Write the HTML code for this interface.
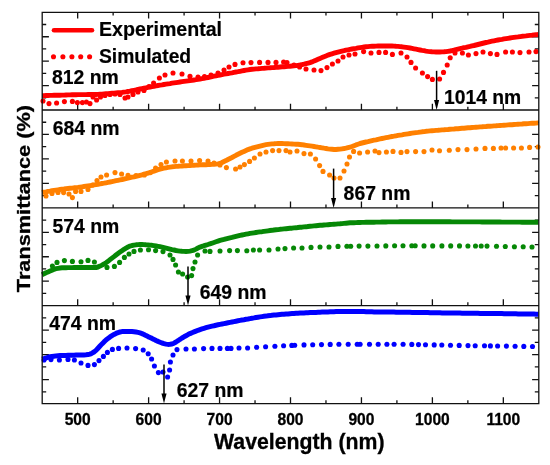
<!DOCTYPE html>
<html><head><meta charset="utf-8"><title>Transmittance spectra</title>
<style>html,body{margin:0;padding:0;background:#fff}body{width:550px;height:465px;overflow:hidden}</style></head>
<body>
<svg width="550" height="465" viewBox="0 0 550 465" style="display:block" font-family="'Liberation Sans', sans-serif" font-weight="bold" fill="#000">
<rect width="550" height="465" fill="#fff"/>
<path d="M77.67,12.30 v6.3 M113.14,12.30 v3.3 M148.61,12.30 v6.3 M184.09,12.30 v3.3 M219.56,12.30 v6.3 M255.03,12.30 v3.3 M290.50,12.30 v6.3 M325.97,12.30 v3.3 M361.44,12.30 v6.3 M396.91,12.30 v3.3 M432.39,12.30 v6.3 M467.86,12.30 v3.3 M503.33,12.30 v6.3 M77.67,110.00 v-6.3 M113.14,110.00 v-3.3 M148.61,110.00 v-6.3 M184.09,110.00 v-3.3 M219.56,110.00 v-6.3 M255.03,110.00 v-3.3 M290.50,110.00 v-6.3 M325.97,110.00 v-3.3 M361.44,110.00 v-6.3 M396.91,110.00 v-3.3 M432.39,110.00 v-6.3 M467.86,110.00 v-3.3 M503.33,110.00 v-6.3 M77.67,207.90 v-6.3 M113.14,207.90 v-3.3 M148.61,207.90 v-6.3 M184.09,207.90 v-3.3 M219.56,207.90 v-6.3 M255.03,207.90 v-3.3 M290.50,207.90 v-6.3 M325.97,207.90 v-3.3 M361.44,207.90 v-6.3 M396.91,207.90 v-3.3 M432.39,207.90 v-6.3 M467.86,207.90 v-3.3 M503.33,207.90 v-6.3 M77.67,305.60 v-6.3 M113.14,305.60 v-3.3 M148.61,305.60 v-6.3 M184.09,305.60 v-3.3 M219.56,305.60 v-6.3 M255.03,305.60 v-3.3 M290.50,305.60 v-6.3 M325.97,305.60 v-3.3 M361.44,305.60 v-6.3 M396.91,305.60 v-3.3 M432.39,305.60 v-6.3 M467.86,305.60 v-3.3 M503.33,305.60 v-6.3 M77.67,403.55 v-6.3 M113.14,403.55 v-3.3 M148.61,403.55 v-6.3 M184.09,403.55 v-3.3 M219.56,403.55 v-6.3 M255.03,403.55 v-3.3 M290.50,403.55 v-6.3 M325.97,403.55 v-3.3 M361.44,403.55 v-6.3 M396.91,403.55 v-3.3 M432.39,403.55 v-6.3 M467.86,403.55 v-3.3 M503.33,403.55 v-6.3 M42.20,24.51 h4.0 M538.80,24.51 h-4.0 M42.20,36.73 h6.7 M538.80,36.73 h-6.7 M42.20,48.94 h4.0 M538.80,48.94 h-4.0 M42.20,61.15 h6.7 M538.80,61.15 h-6.7 M42.20,73.36 h4.0 M538.80,73.36 h-4.0 M42.20,85.58 h6.7 M538.80,85.58 h-6.7 M42.20,97.79 h4.0 M538.80,97.79 h-4.0 M42.20,122.24 h4.0 M538.80,122.24 h-4.0 M42.20,134.47 h6.7 M538.80,134.47 h-6.7 M42.20,146.71 h4.0 M538.80,146.71 h-4.0 M42.20,158.95 h6.7 M538.80,158.95 h-6.7 M42.20,171.19 h4.0 M538.80,171.19 h-4.0 M42.20,183.43 h6.7 M538.80,183.43 h-6.7 M42.20,195.66 h4.0 M538.80,195.66 h-4.0 M42.20,220.11 h4.0 M538.80,220.11 h-4.0 M42.20,232.33 h6.7 M538.80,232.33 h-6.7 M42.20,244.54 h4.0 M538.80,244.54 h-4.0 M42.20,256.75 h6.7 M538.80,256.75 h-6.7 M42.20,268.96 h4.0 M538.80,268.96 h-4.0 M42.20,281.18 h6.7 M538.80,281.18 h-6.7 M42.20,293.39 h4.0 M538.80,293.39 h-4.0 M42.20,317.84 h4.0 M538.80,317.84 h-4.0 M42.20,330.09 h6.7 M538.80,330.09 h-6.7 M42.20,342.33 h4.0 M538.80,342.33 h-4.0 M42.20,354.58 h6.7 M538.80,354.58 h-6.7 M42.20,366.82 h4.0 M538.80,366.82 h-4.0 M42.20,379.56 h6.7 M538.80,379.56 h-6.7 M42.20,391.81 h4.0 M538.80,391.81 h-4.0" fill="none" stroke="#111" stroke-width="1.3"/>
<path d="M42.0,95.6 L44.0,95.6 L46.0,95.5 L48.0,95.5 L50.0,95.4 L52.0,95.4 L54.0,95.3 L56.0,95.3 L58.0,95.3 L60.0,95.2 L62.0,95.1 L64.0,95.1 L66.0,95.0 L68.0,94.9 L70.0,94.9 L72.0,94.8 L74.0,94.7 L76.0,94.7 L78.0,94.6 L80.0,94.6 L82.0,94.6 L84.0,94.6 L86.0,94.6 L88.0,94.5 L90.0,94.5 L92.0,94.5 L94.0,94.5 L96.0,94.5 L98.0,94.4 L100.0,94.2 L102.0,94.1 L104.0,93.9 L106.0,93.7 L108.0,93.6 L110.0,93.4 L112.0,93.2 L114.0,93.1 L116.0,92.9 L118.0,92.7 L120.0,92.6 L122.0,92.4 L124.0,92.1 L126.0,91.9 L128.0,91.5 L130.0,91.2 L132.0,90.7 L134.0,90.3 L136.0,89.9 L138.0,89.4 L140.0,89.0 L142.0,88.6 L144.0,88.2 L146.0,87.8 L148.0,87.4 L150.0,87.0 L152.0,86.6 L154.0,86.3 L156.0,85.9 L158.0,85.5 L160.0,85.2 L162.0,84.9 L164.0,84.5 L166.0,84.2 L168.0,83.9 L170.0,83.6 L172.0,83.2 L174.0,82.9 L176.0,82.6 L178.0,82.3 L180.0,82.0 L182.0,81.7 L184.0,81.4 L186.0,81.1 L188.0,80.8 L190.0,80.5 L192.0,80.3 L194.0,80.0 L196.0,79.7 L198.0,79.3 L200.0,79.0 L202.0,78.6 L204.0,78.3 L206.0,77.9 L208.0,77.5 L210.0,77.1 L212.0,76.6 L214.0,76.2 L216.0,75.8 L218.0,75.4 L220.0,75.0 L222.0,74.6 L224.0,74.2 L226.0,73.9 L228.0,73.5 L230.0,73.1 L232.0,72.8 L234.0,72.4 L236.0,72.0 L238.0,71.7 L240.0,71.3 L242.0,70.9 L244.0,70.5 L246.0,70.1 L248.0,69.8 L250.0,69.5 L252.0,69.3 L254.0,69.1 L256.0,68.9 L258.0,68.8 L260.0,68.6 L262.0,68.4 L264.0,68.3 L266.0,68.1 L268.0,67.9 L270.0,67.8 L272.0,67.6 L274.0,67.5 L276.0,67.3 L278.0,67.2 L280.0,67.0 L282.0,66.8 L284.0,66.7 L286.0,66.5 L288.0,66.4 L290.0,66.2 L292.0,66.0 L294.0,65.8 L296.0,65.6 L298.0,65.3 L300.0,65.0 L302.0,64.6 L304.0,64.2 L306.0,63.7 L308.0,63.2 L310.0,62.6 L312.0,61.9 L314.0,61.1 L316.0,60.2 L318.0,59.3 L320.0,58.4 L322.0,57.6 L324.0,56.7 L326.0,55.9 L328.0,55.1 L330.0,54.4 L332.0,53.8 L334.0,53.2 L336.0,52.6 L338.0,52.1 L340.0,51.6 L342.0,51.1 L344.0,50.7 L346.0,50.2 L348.0,49.8 L350.0,49.4 L352.0,49.0 L354.0,48.6 L356.0,48.3 L358.0,47.9 L360.0,47.6 L362.0,47.3 L364.0,47.0 L366.0,46.8 L368.0,46.6 L370.0,46.4 L372.0,46.3 L374.0,46.2 L376.0,46.1 L378.0,46.0 L380.0,46.0 L382.0,46.0 L384.0,46.0 L386.0,46.0 L388.0,46.0 L390.0,46.0 L392.0,46.0 L394.0,46.1 L396.0,46.3 L398.0,46.4 L400.0,46.6 L402.0,46.8 L404.0,47.1 L406.0,47.4 L408.0,47.7 L410.0,48.0 L412.0,48.4 L414.0,48.8 L416.0,49.2 L418.0,49.6 L420.0,50.0 L422.0,50.4 L424.0,50.7 L426.0,51.1 L428.0,51.4 L430.0,51.6 L432.0,51.8 L434.0,51.9 L436.0,52.0 L438.0,52.0 L440.0,52.0 L442.0,51.9 L444.0,51.8 L446.0,51.6 L448.0,51.3 L450.0,51.0 L452.0,50.6 L454.0,50.2 L456.0,49.6 L458.0,49.1 L460.0,48.6 L462.0,48.2 L464.0,47.7 L466.0,47.3 L468.0,46.8 L470.0,46.4 L472.0,45.9 L474.0,45.5 L476.0,45.0 L478.0,44.5 L480.0,44.0 L482.0,43.5 L484.0,43.0 L486.0,42.5 L488.0,42.1 L490.0,41.6 L492.0,41.2 L494.0,40.8 L496.0,40.4 L498.0,40.0 L500.0,39.6 L502.0,39.3 L504.0,38.9 L506.0,38.6 L508.0,38.3 L510.0,38.0 L512.0,37.7 L514.0,37.4 L516.0,37.1 L518.0,36.9 L520.0,36.6 L522.0,36.3 L524.0,36.1 L526.0,35.9 L528.0,35.6 L530.0,35.4 L532.0,35.2 L534.0,34.9 L536.0,34.7 L538.0,34.5 L538.5,34.4" fill="none" stroke="#ff0000" stroke-width="4.9" stroke-linejoin="round" stroke-linecap="butt"/>
<g fill="#ff0000"><circle cx="43.0" cy="101.0" r="2.55"/><circle cx="49.0" cy="103.6" r="2.55"/><circle cx="56.6" cy="103.0" r="2.55"/><circle cx="64.4" cy="101.6" r="2.55"/><circle cx="72.4" cy="101.4" r="2.55"/><circle cx="77.4" cy="102.6" r="2.55"/><circle cx="82.4" cy="102.6" r="2.55"/><circle cx="86.4" cy="102.0" r="2.55"/><circle cx="90.0" cy="103.6" r="2.55"/><circle cx="93.0" cy="97.0" r="2.55"/><circle cx="96.6" cy="100.0" r="2.55"/><circle cx="100.5" cy="97.0" r="2.55"/><circle cx="105.0" cy="95.5" r="2.55"/><circle cx="110.0" cy="94.5" r="2.55"/><circle cx="115.0" cy="94.0" r="2.55"/><circle cx="120.0" cy="94.4" r="2.55"/><circle cx="125.0" cy="98.0" r="2.55"/><circle cx="128.0" cy="97.0" r="2.55"/><circle cx="133.0" cy="94.4" r="2.55"/><circle cx="138.0" cy="92.0" r="2.55"/><circle cx="144.0" cy="90.4" r="2.55"/><circle cx="149.0" cy="86.5" r="2.55"/><circle cx="153.6" cy="83.0" r="2.55"/><circle cx="159.4" cy="78.0" r="2.55"/><circle cx="165.0" cy="75.0" r="2.55"/><circle cx="173.0" cy="73.0" r="2.55"/><circle cx="182.0" cy="74.0" r="2.55"/><circle cx="190.0" cy="76.4" r="2.55"/><circle cx="198.0" cy="77.0" r="2.55"/><circle cx="204.5" cy="76.5" r="2.55"/><circle cx="211.0" cy="75.0" r="2.55"/><circle cx="218.0" cy="73.0" r="2.55"/><circle cx="224.0" cy="70.0" r="2.55"/><circle cx="229.0" cy="67.0" r="2.55"/><circle cx="235.0" cy="64.4" r="2.55"/><circle cx="243.0" cy="62.8" r="2.55"/><circle cx="251.0" cy="62.6" r="2.55"/><circle cx="259.6" cy="62.4" r="2.55"/><circle cx="268.0" cy="62.4" r="2.55"/><circle cx="276.0" cy="62.4" r="2.55"/><circle cx="283.6" cy="62.0" r="2.55"/><circle cx="287.0" cy="62.6" r="2.55"/><circle cx="294.0" cy="65.0" r="2.55"/><circle cx="299.6" cy="67.0" r="2.55"/><circle cx="306.0" cy="69.0" r="2.55"/><circle cx="314.0" cy="70.0" r="2.55"/><circle cx="321.0" cy="70.6" r="2.55"/><circle cx="327.0" cy="67.6" r="2.55"/><circle cx="332.4" cy="64.0" r="2.55"/><circle cx="338.0" cy="61.0" r="2.55"/><circle cx="343.0" cy="57.0" r="2.55"/><circle cx="349.0" cy="55.0" r="2.55"/><circle cx="355.0" cy="54.0" r="2.55"/><circle cx="363.6" cy="51.6" r="2.55"/><circle cx="371.0" cy="53.0" r="2.55"/><circle cx="379.0" cy="52.4" r="2.55"/><circle cx="385.6" cy="52.4" r="2.55"/><circle cx="392.4" cy="54.4" r="2.55"/><circle cx="401.0" cy="53.0" r="2.55"/><circle cx="407.0" cy="57.0" r="2.55"/><circle cx="411.0" cy="62.4" r="2.55"/><circle cx="415.6" cy="68.0" r="2.55"/><circle cx="422.4" cy="73.0" r="2.55"/><circle cx="427.6" cy="76.6" r="2.55"/><circle cx="432.4" cy="79.4" r="2.55"/><circle cx="439.6" cy="79.0" r="2.55"/><circle cx="443.5" cy="72.4" r="2.55"/><circle cx="447.2" cy="65.0" r="2.55"/><circle cx="450.2" cy="57.8" r="2.55"/><circle cx="455.0" cy="53.0" r="2.55"/><circle cx="462.4" cy="53.0" r="2.55"/><circle cx="468.4" cy="55.0" r="2.55"/><circle cx="476.0" cy="53.6" r="2.55"/><circle cx="483.0" cy="52.0" r="2.55"/><circle cx="490.4" cy="53.6" r="2.55"/><circle cx="497.0" cy="54.4" r="2.55"/><circle cx="505.6" cy="52.0" r="2.55"/><circle cx="512.4" cy="52.0" r="2.55"/><circle cx="520.0" cy="52.6" r="2.55"/><circle cx="529.0" cy="52.0" r="2.55"/><circle cx="536.0" cy="51.6" r="2.55"/></g>
<path d="M42.0,192.5 L44.0,192.1 L46.0,191.8 L48.0,191.4 L50.0,191.1 L52.0,190.7 L54.0,190.4 L56.0,190.1 L58.0,189.8 L60.0,189.5 L62.0,189.2 L64.0,189.0 L66.0,188.7 L68.0,188.5 L70.0,188.3 L72.0,188.1 L74.0,187.8 L76.0,187.6 L78.0,187.4 L80.0,187.1 L82.0,186.8 L84.0,186.5 L86.0,186.2 L88.0,185.9 L90.0,185.6 L92.0,185.3 L94.0,184.9 L96.0,184.6 L98.0,184.3 L100.0,183.9 L102.0,183.5 L104.0,183.2 L106.0,182.8 L108.0,182.4 L110.0,182.0 L112.0,181.6 L114.0,181.2 L116.0,180.7 L118.0,180.3 L120.0,179.9 L122.0,179.5 L124.0,179.0 L126.0,178.6 L128.0,178.2 L130.0,177.7 L132.0,177.2 L134.0,176.8 L136.0,176.3 L138.0,175.8 L140.0,175.3 L142.0,174.8 L144.0,174.2 L146.0,173.7 L148.0,173.1 L150.0,172.5 L152.0,171.8 L154.0,171.1 L156.0,170.4 L158.0,169.7 L160.0,169.1 L162.0,168.6 L164.0,168.2 L166.0,167.8 L168.0,167.4 L170.0,167.1 L172.0,166.8 L174.0,166.6 L176.0,166.4 L178.0,166.3 L180.0,166.1 L182.0,166.0 L184.0,165.8 L186.0,165.7 L188.0,165.6 L190.0,165.5 L192.0,165.4 L194.0,165.2 L196.0,165.1 L198.0,165.0 L200.0,164.9 L202.0,164.8 L204.0,164.7 L206.0,164.7 L208.0,164.6 L210.0,164.5 L212.0,164.4 L214.0,164.3 L216.0,164.1 L218.0,163.9 L220.0,163.4 L222.0,162.5 L224.0,161.5 L226.0,160.6 L228.0,159.5 L230.0,158.5 L232.0,157.5 L234.0,156.4 L236.0,155.3 L238.0,154.3 L240.0,153.3 L242.0,152.3 L244.0,151.4 L246.0,150.5 L248.0,149.6 L250.0,148.9 L252.0,148.2 L254.0,147.6 L256.0,147.1 L258.0,146.6 L260.0,146.1 L262.0,145.6 L264.0,145.1 L266.0,144.7 L268.0,144.4 L270.0,144.1 L272.0,143.9 L274.0,143.8 L276.0,143.6 L278.0,143.5 L280.0,143.5 L282.0,143.5 L284.0,143.6 L286.0,143.7 L288.0,143.8 L290.0,143.9 L292.0,144.0 L294.0,144.1 L296.0,144.2 L298.0,144.3 L300.0,144.5 L302.0,144.7 L304.0,145.0 L306.0,145.3 L308.0,145.6 L310.0,145.9 L312.0,146.2 L314.0,146.5 L316.0,146.8 L318.0,147.2 L320.0,147.5 L322.0,147.8 L324.0,148.2 L326.0,148.5 L328.0,148.9 L330.0,149.1 L332.0,149.3 L334.0,149.5 L336.0,149.5 L338.0,149.3 L340.0,149.1 L342.0,148.8 L344.0,148.5 L346.0,148.1 L348.0,147.6 L350.0,147.1 L352.0,146.5 L354.0,145.7 L356.0,144.9 L358.0,144.2 L360.0,143.5 L362.0,143.0 L364.0,142.5 L366.0,142.0 L368.0,141.6 L370.0,141.1 L372.0,140.6 L374.0,140.2 L376.0,139.8 L378.0,139.3 L380.0,138.9 L382.0,138.5 L384.0,138.1 L386.0,137.7 L388.0,137.3 L390.0,136.9 L392.0,136.5 L394.0,136.2 L396.0,135.8 L398.0,135.4 L400.0,135.1 L402.0,134.8 L404.0,134.4 L406.0,134.1 L408.0,133.8 L410.0,133.5 L412.0,133.2 L414.0,132.9 L416.0,132.6 L418.0,132.4 L420.0,132.1 L422.0,131.8 L424.0,131.6 L426.0,131.3 L428.0,131.1 L430.0,130.9 L432.0,130.7 L434.0,130.6 L436.0,130.4 L438.0,130.3 L440.0,130.1 L442.0,129.9 L444.0,129.8 L446.0,129.6 L448.0,129.5 L450.0,129.3 L452.0,129.1 L454.0,129.0 L456.0,128.8 L458.0,128.7 L460.0,128.5 L462.0,128.3 L464.0,128.2 L466.0,128.0 L468.0,127.8 L470.0,127.7 L472.0,127.5 L474.0,127.4 L476.0,127.2 L478.0,127.1 L480.0,126.9 L482.0,126.8 L484.0,126.6 L486.0,126.5 L488.0,126.3 L490.0,126.2 L492.0,126.1 L494.0,125.9 L496.0,125.8 L498.0,125.6 L500.0,125.5 L502.0,125.4 L504.0,125.2 L506.0,125.1 L508.0,124.9 L510.0,124.8 L512.0,124.7 L514.0,124.5 L516.0,124.4 L518.0,124.2 L520.0,124.1 L522.0,124.0 L524.0,123.8 L526.0,123.7 L528.0,123.6 L530.0,123.4 L532.0,123.3 L534.0,123.2 L536.0,123.1 L538.0,122.9 L538.5,122.9" fill="none" stroke="#ff8000" stroke-width="4.9" stroke-linejoin="round" stroke-linecap="butt"/>
<g fill="#ff8000"><circle cx="46.0" cy="196.0" r="2.55"/><circle cx="52.0" cy="193.5" r="2.55"/><circle cx="58.0" cy="192.5" r="2.55"/><circle cx="63.6" cy="192.6" r="2.55"/><circle cx="69.0" cy="194.0" r="2.55"/><circle cx="72.4" cy="197.6" r="2.55"/><circle cx="75.6" cy="191.4" r="2.55"/><circle cx="81.0" cy="191.4" r="2.55"/><circle cx="88.0" cy="189.4" r="2.55"/><circle cx="92.5" cy="185.0" r="2.55"/><circle cx="97.0" cy="180.6" r="2.55"/><circle cx="101.0" cy="177.0" r="2.55"/><circle cx="106.6" cy="175.0" r="2.55"/><circle cx="115.0" cy="172.6" r="2.55"/><circle cx="121.6" cy="174.0" r="2.55"/><circle cx="128.0" cy="175.4" r="2.55"/><circle cx="136.0" cy="175.5" r="2.55"/><circle cx="144.4" cy="175.0" r="2.55"/><circle cx="150.4" cy="172.6" r="2.55"/><circle cx="155.6" cy="168.0" r="2.55"/><circle cx="161.0" cy="164.6" r="2.55"/><circle cx="166.4" cy="162.0" r="2.55"/><circle cx="175.0" cy="161.0" r="2.55"/><circle cx="182.4" cy="161.0" r="2.55"/><circle cx="191.0" cy="161.0" r="2.55"/><circle cx="199.6" cy="160.6" r="2.55"/><circle cx="208.0" cy="161.0" r="2.55"/><circle cx="214.0" cy="163.0" r="2.55"/><circle cx="220.0" cy="165.0" r="2.55"/><circle cx="226.4" cy="167.6" r="2.55"/><circle cx="235.6" cy="169.0" r="2.55"/><circle cx="240.0" cy="167.0" r="2.55"/><circle cx="244.4" cy="164.6" r="2.55"/><circle cx="249.6" cy="161.4" r="2.55"/><circle cx="254.4" cy="158.0" r="2.55"/><circle cx="260.0" cy="154.0" r="2.55"/><circle cx="266.0" cy="152.0" r="2.55"/><circle cx="272.6" cy="150.6" r="2.55"/><circle cx="279.0" cy="150.6" r="2.55"/><circle cx="286.0" cy="150.6" r="2.55"/><circle cx="290.0" cy="152.0" r="2.55"/><circle cx="297.0" cy="151.0" r="2.55"/><circle cx="304.0" cy="153.6" r="2.55"/><circle cx="310.4" cy="154.0" r="2.55"/><circle cx="315.6" cy="159.0" r="2.55"/><circle cx="319.6" cy="165.6" r="2.55"/><circle cx="323.0" cy="171.4" r="2.55"/><circle cx="329.6" cy="175.0" r="2.55"/><circle cx="334.0" cy="178.0" r="2.55"/><circle cx="340.0" cy="178.0" r="2.55"/><circle cx="344.0" cy="171.0" r="2.55"/><circle cx="347.0" cy="164.0" r="2.55"/><circle cx="349.5" cy="157.0" r="2.55"/><circle cx="353.6" cy="151.4" r="2.55"/><circle cx="359.6" cy="153.0" r="2.55"/><circle cx="367.6" cy="152.0" r="2.55"/><circle cx="375.0" cy="151.0" r="2.55"/><circle cx="379.0" cy="152.6" r="2.55"/><circle cx="386.4" cy="152.0" r="2.55"/><circle cx="393.0" cy="151.4" r="2.55"/><circle cx="401.0" cy="152.4" r="2.55"/><circle cx="407.0" cy="151.6" r="2.55"/><circle cx="415.6" cy="151.6" r="2.55"/><circle cx="424.0" cy="151.6" r="2.55"/><circle cx="432.0" cy="150.0" r="2.55"/><circle cx="439.5" cy="150.8" r="2.55"/><circle cx="449.3" cy="150.2" r="2.55"/><circle cx="458.0" cy="149.6" r="2.55"/><circle cx="467.0" cy="149.6" r="2.55"/><circle cx="476.0" cy="149.0" r="2.55"/><circle cx="485.0" cy="148.4" r="2.55"/><circle cx="493.4" cy="148.4" r="2.55"/><circle cx="501.0" cy="148.0" r="2.55"/><circle cx="505.6" cy="148.0" r="2.55"/><circle cx="513.6" cy="148.0" r="2.55"/><circle cx="521.4" cy="148.0" r="2.55"/><circle cx="529.6" cy="147.4" r="2.55"/><circle cx="538.0" cy="147.0" r="2.55"/></g>
<path d="M42.0,274.7 L44.0,273.8 L46.0,272.8 L48.0,272.0 L50.0,271.1 L52.0,270.2 L54.0,269.3 L56.0,268.7 L58.0,268.3 L60.0,268.0 L62.0,267.8 L64.0,267.7 L66.0,267.7 L68.0,267.6 L70.0,267.6 L72.0,267.6 L74.0,267.5 L76.0,267.5 L78.0,267.5 L80.0,267.5 L82.0,267.5 L84.0,267.5 L86.0,267.5 L88.0,267.5 L90.0,267.5 L92.0,267.5 L94.0,267.5 L96.0,267.5 L98.0,267.0 L100.0,266.1 L102.0,265.1 L104.0,264.0 L106.0,262.7 L108.0,261.3 L110.0,259.7 L112.0,258.1 L114.0,256.6 L116.0,255.0 L118.0,253.5 L120.0,252.1 L122.0,250.7 L124.0,249.3 L126.0,248.1 L128.0,247.0 L130.0,246.1 L132.0,245.5 L134.0,245.1 L136.0,244.8 L138.0,244.6 L140.0,244.5 L142.0,244.5 L144.0,244.6 L146.0,244.8 L148.0,244.9 L150.0,245.1 L152.0,245.3 L154.0,245.6 L156.0,245.9 L158.0,246.3 L160.0,246.7 L162.0,247.1 L164.0,247.6 L166.0,248.1 L168.0,248.6 L170.0,249.1 L172.0,249.6 L174.0,250.0 L176.0,250.5 L178.0,250.8 L180.0,251.1 L182.0,251.3 L184.0,251.4 L186.0,251.5 L188.0,251.4 L190.0,251.1 L192.0,250.7 L194.0,250.1 L196.0,249.1 L198.0,248.0 L200.0,247.1 L202.0,246.4 L204.0,245.7 L206.0,245.1 L208.0,244.5 L210.0,243.8 L212.0,243.2 L214.0,242.5 L216.0,241.8 L218.0,241.1 L220.0,240.4 L222.0,239.9 L224.0,239.4 L226.0,238.8 L228.0,238.3 L230.0,237.8 L232.0,237.4 L234.0,236.9 L236.0,236.4 L238.0,235.9 L240.0,235.4 L242.0,235.0 L244.0,234.6 L246.0,234.2 L248.0,233.8 L250.0,233.4 L252.0,233.1 L254.0,232.8 L256.0,232.5 L258.0,232.2 L260.0,231.9 L262.0,231.7 L264.0,231.4 L266.0,231.1 L268.0,230.8 L270.0,230.5 L272.0,230.3 L274.0,230.0 L276.0,229.8 L278.0,229.6 L280.0,229.3 L282.0,229.1 L284.0,228.9 L286.0,228.7 L288.0,228.5 L290.0,228.3 L292.0,228.2 L294.0,227.9 L296.0,227.8 L298.0,227.5 L300.0,227.3 L302.0,227.2 L304.0,226.9 L306.0,226.8 L308.0,226.5 L310.0,226.3 L312.0,226.1 L314.0,225.9 L316.0,225.7 L318.0,225.5 L320.0,225.3 L322.0,225.2 L324.0,225.0 L326.0,224.9 L328.0,224.7 L330.0,224.5 L332.0,224.4 L334.0,224.2 L336.0,224.1 L338.0,223.9 L340.0,223.8 L342.0,223.6 L344.0,223.4 L346.0,223.2 L348.0,223.0 L350.0,222.8 L352.0,222.8 L354.0,222.7 L356.0,222.6 L358.0,222.5 L360.0,222.5 L362.0,222.4 L364.0,222.4 L366.0,222.3 L368.0,222.3 L370.0,222.2 L372.0,222.2 L374.0,222.2 L376.0,222.1 L378.0,222.1 L380.0,222.1 L382.0,222.0 L384.0,222.0 L386.0,222.0 L388.0,221.9 L390.0,221.9 L392.0,221.9 L394.0,221.9 L396.0,221.9 L398.0,221.9 L400.0,221.8 L402.0,221.8 L404.0,221.8 L406.0,221.8 L408.0,221.8 L410.0,221.8 L412.0,221.8 L414.0,221.8 L416.0,221.8 L418.0,221.8 L420.0,221.8 L422.0,221.8 L424.0,221.8 L426.0,221.8 L428.0,221.8 L430.0,221.8 L432.0,221.8 L434.0,221.8 L436.0,221.8 L438.0,221.8 L440.0,221.8 L442.0,221.8 L444.0,221.8 L446.0,221.8 L448.0,221.8 L450.0,221.8 L452.0,221.9 L454.0,221.9 L456.0,221.9 L458.0,221.9 L460.0,221.9 L462.0,221.9 L464.0,221.9 L466.0,221.9 L468.0,221.9 L470.0,221.9 L472.0,221.9 L474.0,221.9 L476.0,221.9 L478.0,221.9 L480.0,221.9 L482.0,222.0 L484.0,222.0 L486.0,222.0 L488.0,222.0 L490.0,222.0 L492.0,222.0 L494.0,222.0 L496.0,222.0 L498.0,222.0 L500.0,222.0 L502.0,222.1 L504.0,222.1 L506.0,222.1 L508.0,222.1 L510.0,222.1 L512.0,222.1 L514.0,222.1 L516.0,222.1 L518.0,222.1 L520.0,222.1 L522.0,222.2 L524.0,222.2 L526.0,222.2 L528.0,222.2 L530.0,222.2 L532.0,222.2 L534.0,222.2 L536.0,222.2 L538.0,222.2 L538.5,222.2" fill="none" stroke="#068806" stroke-width="4.9" stroke-linejoin="round" stroke-linecap="butt"/>
<g fill="#068806"><circle cx="52.4" cy="266.0" r="2.55"/><circle cx="57.0" cy="262.4" r="2.55"/><circle cx="64.4" cy="260.6" r="2.55"/><circle cx="72.4" cy="261.4" r="2.55"/><circle cx="81.0" cy="261.8" r="2.55"/><circle cx="88.0" cy="260.4" r="2.55"/><circle cx="94.4" cy="262.0" r="2.55"/><circle cx="107.0" cy="267.4" r="2.55"/><circle cx="114.4" cy="266.4" r="2.55"/><circle cx="119.6" cy="262.4" r="2.55"/><circle cx="124.4" cy="257.4" r="2.55"/><circle cx="129.0" cy="254.0" r="2.55"/><circle cx="134.0" cy="251.4" r="2.55"/><circle cx="140.4" cy="250.0" r="2.55"/><circle cx="148.5" cy="249.8" r="2.55"/><circle cx="155.6" cy="250.6" r="2.55"/><circle cx="163.0" cy="251.6" r="2.55"/><circle cx="170.0" cy="255.0" r="2.55"/><circle cx="173.0" cy="259.4" r="2.55"/><circle cx="175.6" cy="265.0" r="2.55"/><circle cx="178.4" cy="272.0" r="2.55"/><circle cx="182.6" cy="274.0" r="2.55"/><circle cx="187.6" cy="277.0" r="2.55"/><circle cx="191.6" cy="275.6" r="2.55"/><circle cx="193.0" cy="268.6" r="2.55"/><circle cx="195.0" cy="262.0" r="2.55"/><circle cx="197.6" cy="255.0" r="2.55"/><circle cx="205.0" cy="251.0" r="2.55"/><circle cx="210.0" cy="251.4" r="2.55"/><circle cx="220.0" cy="251.0" r="2.55"/><circle cx="229.6" cy="250.6" r="2.55"/><circle cx="237.4" cy="250.6" r="2.55"/><circle cx="246.8" cy="250.8" r="2.55"/><circle cx="253.4" cy="250.0" r="2.55"/><circle cx="259.6" cy="250.0" r="2.55"/><circle cx="269.0" cy="250.0" r="2.55"/><circle cx="278.0" cy="249.0" r="2.55"/><circle cx="285.0" cy="248.6" r="2.55"/><circle cx="293.6" cy="248.0" r="2.55"/><circle cx="302.0" cy="248.0" r="2.55"/><circle cx="311.0" cy="247.4" r="2.55"/><circle cx="320.0" cy="247.0" r="2.55"/><circle cx="329.0" cy="247.0" r="2.55"/><circle cx="338.0" cy="246.4" r="2.55"/><circle cx="346.9" cy="246.2" r="2.55"/><circle cx="350.7" cy="246.2" r="2.55"/><circle cx="359.1" cy="246.1" r="2.55"/><circle cx="367.9" cy="246.1" r="2.55"/><circle cx="377.0" cy="246.0" r="2.55"/><circle cx="385.8" cy="245.9" r="2.55"/><circle cx="394.6" cy="245.8" r="2.55"/><circle cx="403.0" cy="245.8" r="2.55"/><circle cx="411.8" cy="245.8" r="2.55"/><circle cx="415.2" cy="245.8" r="2.55"/><circle cx="424.0" cy="245.9" r="2.55"/><circle cx="432.7" cy="245.9" r="2.55"/><circle cx="441.9" cy="245.9" r="2.55"/><circle cx="450.7" cy="245.9" r="2.55"/><circle cx="459.5" cy="245.9" r="2.55"/><circle cx="467.9" cy="246.0" r="2.55"/><circle cx="475.5" cy="246.0" r="2.55"/><circle cx="481.2" cy="246.0" r="2.55"/><circle cx="487.0" cy="246.1" r="2.55"/><circle cx="496.5" cy="246.3" r="2.55"/><circle cx="505.3" cy="246.5" r="2.55"/><circle cx="514.4" cy="246.7" r="2.55"/><circle cx="523.2" cy="246.8" r="2.55"/><circle cx="532.0" cy="247.0" r="2.55"/></g>
<path d="M42.0,359.2 L44.0,358.6 L46.0,358.0 L48.0,357.3 L50.0,356.8 L52.0,356.5 L54.0,356.2 L56.0,355.9 L58.0,355.7 L60.0,355.6 L62.0,355.5 L64.0,355.4 L66.0,355.4 L68.0,355.3 L70.0,355.3 L72.0,355.2 L74.0,355.2 L76.0,355.1 L78.0,355.1 L80.0,355.0 L82.0,354.9 L84.0,354.9 L86.0,354.8 L88.0,354.6 L90.0,354.1 L92.0,353.2 L94.0,352.0 L96.0,350.4 L98.0,348.2 L100.0,346.0 L102.0,343.9 L104.0,341.9 L106.0,340.0 L108.0,338.4 L110.0,336.9 L112.0,335.6 L114.0,334.4 L116.0,333.4 L118.0,332.6 L120.0,332.0 L122.0,331.6 L124.0,331.4 L126.0,331.4 L128.0,331.4 L130.0,331.4 L132.0,331.5 L134.0,331.7 L136.0,332.0 L138.0,332.4 L140.0,332.9 L142.0,333.6 L144.0,334.5 L146.0,335.6 L148.0,336.6 L150.0,337.5 L152.0,338.4 L154.0,339.4 L156.0,340.5 L158.0,341.4 L160.0,342.2 L162.0,343.0 L164.0,343.6 L166.0,344.1 L168.0,344.4 L170.0,344.3 L172.0,344.0 L174.0,343.2 L176.0,342.0 L178.0,340.7 L180.0,339.3 L182.0,338.0 L184.0,336.8 L186.0,335.7 L188.0,334.6 L190.0,333.6 L192.0,332.7 L194.0,331.9 L196.0,331.1 L198.0,330.3 L200.0,329.6 L202.0,328.9 L204.0,328.3 L206.0,327.7 L208.0,327.1 L210.0,326.6 L212.0,326.1 L214.0,325.7 L216.0,325.2 L218.0,324.8 L220.0,324.4 L222.0,324.0 L224.0,323.6 L226.0,323.2 L228.0,322.8 L230.0,322.4 L232.0,322.0 L234.0,321.6 L236.0,321.2 L238.0,320.8 L240.0,320.4 L242.0,320.0 L244.0,319.7 L246.0,319.3 L248.0,319.0 L250.0,318.6 L252.0,318.2 L254.0,317.9 L256.0,317.5 L258.0,317.2 L260.0,316.9 L262.0,316.6 L264.0,316.3 L266.0,316.1 L268.0,315.8 L270.0,315.6 L272.0,315.3 L274.0,315.1 L276.0,314.9 L278.0,314.7 L280.0,314.5 L282.0,314.3 L284.0,314.2 L286.0,314.0 L288.0,313.9 L290.0,313.7 L292.0,313.6 L294.0,313.5 L296.0,313.3 L298.0,313.2 L300.0,313.1 L302.0,313.0 L304.0,312.9 L306.0,312.8 L308.0,312.7 L310.0,312.6 L312.0,312.5 L314.0,312.4 L316.0,312.4 L318.0,312.3 L320.0,312.2 L322.0,312.1 L324.0,312.0 L326.0,312.0 L328.0,311.9 L330.0,311.8 L332.0,311.7 L334.0,311.7 L336.0,311.6 L338.0,311.6 L340.0,311.6 L342.0,311.6 L344.0,311.6 L346.0,311.6 L348.0,311.6 L350.0,311.6 L352.0,311.6 L354.0,311.6 L356.0,311.6 L358.0,311.6 L360.0,311.6 L362.0,311.6 L364.0,311.6 L366.0,311.7 L368.0,311.7 L370.0,311.8 L372.0,311.8 L374.0,311.9 L376.0,311.9 L378.0,312.0 L380.0,312.0 L382.0,312.0 L384.0,312.0 L386.0,312.1 L388.0,312.1 L390.0,312.1 L392.0,312.1 L394.0,312.1 L396.0,312.2 L398.0,312.2 L400.0,312.2 L402.0,312.2 L404.0,312.3 L406.0,312.3 L408.0,312.3 L410.0,312.3 L412.0,312.4 L414.0,312.4 L416.0,312.4 L418.0,312.5 L420.0,312.5 L422.0,312.5 L424.0,312.6 L426.0,312.6 L428.0,312.6 L430.0,312.7 L432.0,312.7 L434.0,312.7 L436.0,312.8 L438.0,312.8 L440.0,312.8 L442.0,312.9 L444.0,312.9 L446.0,312.9 L448.0,313.0 L450.0,313.0 L452.0,313.0 L454.0,313.1 L456.0,313.1 L458.0,313.1 L460.0,313.1 L462.0,313.2 L464.0,313.2 L466.0,313.2 L468.0,313.2 L470.0,313.2 L472.0,313.3 L474.0,313.3 L476.0,313.3 L478.0,313.3 L480.0,313.4 L482.0,313.4 L484.0,313.4 L486.0,313.4 L488.0,313.4 L490.0,313.5 L492.0,313.5 L494.0,313.5 L496.0,313.5 L498.0,313.6 L500.0,313.6 L502.0,313.6 L504.0,313.7 L506.0,313.7 L508.0,313.7 L510.0,313.7 L512.0,313.8 L514.0,313.8 L516.0,313.8 L518.0,313.9 L520.0,313.9 L522.0,313.9 L524.0,314.0 L526.0,314.0 L528.0,314.0 L530.0,314.1 L532.0,314.1 L534.0,314.1 L536.0,314.2 L538.0,314.2 L538.5,314.2" fill="none" stroke="#0000ff" stroke-width="5.0" stroke-linejoin="round" stroke-linecap="butt"/>
<g fill="#0000ff"><circle cx="44.0" cy="360.0" r="2.55"/><circle cx="51.0" cy="359.6" r="2.55"/><circle cx="59.4" cy="360.0" r="2.55"/><circle cx="68.0" cy="359.4" r="2.55"/><circle cx="74.4" cy="360.0" r="2.55"/><circle cx="81.0" cy="363.0" r="2.55"/><circle cx="88.0" cy="365.4" r="2.55"/><circle cx="94.4" cy="364.6" r="2.55"/><circle cx="99.0" cy="360.6" r="2.55"/><circle cx="103.4" cy="356.4" r="2.55"/><circle cx="107.4" cy="352.4" r="2.55"/><circle cx="112.4" cy="349.4" r="2.55"/><circle cx="118.6" cy="348.4" r="2.55"/><circle cx="127.0" cy="348.0" r="2.55"/><circle cx="135.6" cy="348.6" r="2.55"/><circle cx="143.2" cy="350.0" r="2.55"/><circle cx="148.2" cy="353.8" r="2.55"/><circle cx="151.6" cy="359.0" r="2.55"/><circle cx="154.4" cy="366.0" r="2.55"/><circle cx="158.4" cy="372.6" r="2.55"/><circle cx="163.0" cy="372.0" r="2.55"/><circle cx="167.6" cy="377.0" r="2.55"/><circle cx="169.6" cy="370.0" r="2.55"/><circle cx="170.4" cy="362.0" r="2.55"/><circle cx="173.0" cy="355.0" r="2.55"/><circle cx="177.0" cy="349.6" r="2.55"/><circle cx="186.0" cy="349.0" r="2.55"/><circle cx="194.4" cy="349.0" r="2.55"/><circle cx="203.6" cy="348.6" r="2.55"/><circle cx="212.0" cy="348.4" r="2.55"/><circle cx="220.0" cy="348.4" r="2.55"/><circle cx="227.4" cy="348.4" r="2.55"/><circle cx="231.0" cy="348.4" r="2.55"/><circle cx="239.0" cy="348.0" r="2.55"/><circle cx="247.6" cy="348.0" r="2.55"/><circle cx="256.6" cy="347.2" r="2.55"/><circle cx="265.6" cy="346.7" r="2.55"/><circle cx="274.9" cy="346.3" r="2.55"/><circle cx="283.6" cy="345.8" r="2.55"/><circle cx="291.8" cy="345.4" r="2.55"/><circle cx="294.7" cy="345.3" r="2.55"/><circle cx="304.0" cy="344.9" r="2.55"/><circle cx="312.7" cy="344.7" r="2.55"/><circle cx="321.5" cy="344.6" r="2.55"/><circle cx="330.2" cy="344.4" r="2.55"/><circle cx="338.9" cy="344.2" r="2.55"/><circle cx="348.2" cy="344.2" r="2.55"/><circle cx="357.2" cy="344.2" r="2.55"/><circle cx="360.1" cy="344.2" r="2.55"/><circle cx="369.5" cy="344.2" r="2.55"/><circle cx="378.2" cy="344.2" r="2.55"/><circle cx="386.9" cy="344.2" r="2.55"/><circle cx="394.1" cy="344.2" r="2.55"/><circle cx="403.1" cy="344.3" r="2.55"/><circle cx="411.8" cy="344.4" r="2.55"/><circle cx="418.5" cy="344.6" r="2.55"/><circle cx="425.5" cy="344.7" r="2.55"/><circle cx="434.2" cy="344.9" r="2.55"/><circle cx="441.8" cy="345.0" r="2.55"/><circle cx="450.5" cy="345.2" r="2.55"/><circle cx="459.2" cy="345.4" r="2.55"/><circle cx="468.0" cy="345.6" r="2.55"/><circle cx="475.2" cy="345.7" r="2.55"/><circle cx="484.5" cy="345.8" r="2.55"/><circle cx="490.4" cy="345.9" r="2.55"/><circle cx="497.6" cy="346.0" r="2.55"/><circle cx="506.4" cy="346.1" r="2.55"/><circle cx="515.1" cy="346.3" r="2.55"/><circle cx="523.8" cy="346.4" r="2.55"/><circle cx="532.5" cy="346.5" r="2.55"/></g>
<line x1="54" y1="30.2" x2="92" y2="30.2" stroke="#ff0000" stroke-width="4.6" stroke-linecap="round"/>
<g fill="#ff0000"><circle cx="53.5" cy="56.8" r="2.55"/><circle cx="62.9" cy="56.8" r="2.55"/><circle cx="71.9" cy="56.8" r="2.55"/><circle cx="80.7" cy="56.8" r="2.55"/><circle cx="89.6" cy="56.8" r="2.55"/></g>
<path d="M41.55,12.30 H539.45 M41.55,110.00 H539.45 M41.55,207.90 H539.45 M41.55,305.60 H539.45 M41.55,403.55 H539.45 M42.20,12.30 V403.40 M538.80,12.30 V403.40" fill="none" stroke="#111" stroke-width="1.3"/>
<line x1="436.6" y1="70.8" x2="436.6" y2="101.0" stroke="#000" stroke-width="1.5"/><path d="M436.6,110.0 L434.05,100.0 L439.15000000000003,100.0 Z" fill="#000"/>
<line x1="333.6" y1="168.6" x2="333.6" y2="198.9" stroke="#000" stroke-width="1.5"/><path d="M333.6,207.9 L331.05,197.9 L336.15000000000003,197.9 Z" fill="#000"/>
<line x1="188" y1="266.6" x2="188" y2="296.6" stroke="#000" stroke-width="1.5"/><path d="M188,305.6 L185.45,295.6 L190.55,295.6 Z" fill="#000"/>
<line x1="164" y1="364.4" x2="164" y2="394.6" stroke="#000" stroke-width="1.5"/><path d="M164,403.6 L161.45,393.6 L166.55,393.6 Z" fill="#000"/>
<text transform="translate(99,36.4) scale(1,1.0)" font-size="19.6" text-anchor="start" stroke="#000" stroke-width="0.2">Experimental</text>
<text transform="translate(99,62.9) scale(1,1.0)" font-size="19.3" text-anchor="start" stroke="#000" stroke-width="0.2">Simulated</text>
<text transform="translate(52,83.5) scale(1,1.02)" font-size="19.4" text-anchor="start" stroke="#000" stroke-width="0.2">812 nm</text>
<text transform="translate(444,103.9) scale(1,1.02)" font-size="19.3" text-anchor="start" stroke="#000" stroke-width="0.2">1014 nm</text>
<text transform="translate(52.8,135.3) scale(1,1.02)" font-size="19.4" text-anchor="start" stroke="#000" stroke-width="0.2">684 nm</text>
<text transform="translate(343.6,200.4) scale(1,1.02)" font-size="19.4" text-anchor="start" stroke="#000" stroke-width="0.2">867 nm</text>
<text transform="translate(52.4,233.3) scale(1,1.02)" font-size="19.4" text-anchor="start" stroke="#000" stroke-width="0.2">574 nm</text>
<text transform="translate(199.7,298.9) scale(1,1.02)" font-size="19.4" text-anchor="start" stroke="#000" stroke-width="0.2">649 nm</text>
<text transform="translate(49.2,330.3) scale(1,1.02)" font-size="19.4" text-anchor="start" stroke="#000" stroke-width="0.2">474 nm</text>
<text transform="translate(176.7,397.2) scale(1,1.02)" font-size="19.4" text-anchor="start" stroke="#000" stroke-width="0.2">627 nm</text>
<text transform="translate(77.7,424.9) scale(1,1.03)" font-size="15.6" text-anchor="middle" stroke="#000" stroke-width="0.3">500</text>
<text transform="translate(148.6,424.9) scale(1,1.03)" font-size="15.6" text-anchor="middle" stroke="#000" stroke-width="0.3">600</text>
<text transform="translate(219.6,424.9) scale(1,1.03)" font-size="15.6" text-anchor="middle" stroke="#000" stroke-width="0.3">700</text>
<text transform="translate(290.5,424.9) scale(1,1.03)" font-size="15.6" text-anchor="middle" stroke="#000" stroke-width="0.3">800</text>
<text transform="translate(361.4,424.9) scale(1,1.03)" font-size="15.6" text-anchor="middle" stroke="#000" stroke-width="0.3">900</text>
<text transform="translate(432.4,424.9) scale(1,1.03)" font-size="15.6" text-anchor="middle" stroke="#000" stroke-width="0.3">1000</text>
<text transform="translate(503.3,424.9) scale(1,1.03)" font-size="15.6" text-anchor="middle" stroke="#000" stroke-width="0.3">1100</text>
<text transform="translate(299.3,448.5) scale(1,1.0)" font-size="21.25" text-anchor="middle" stroke="#000" stroke-width="0.3">Wavelength (nm)</text>
<text transform="translate(29.6,198.6) rotate(-90) scale(1,0.88)" font-size="21.75" text-anchor="middle" stroke="#000" stroke-width="0.35">Transmittance (%)</text>
</svg>
</body></html>
